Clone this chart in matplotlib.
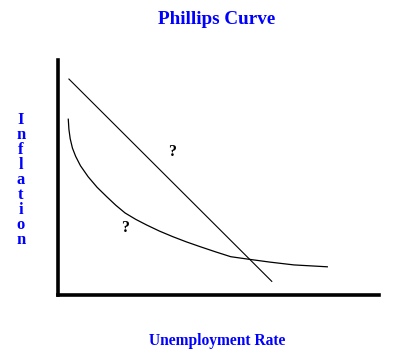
import matplotlib
matplotlib.use("Agg")
import matplotlib.pyplot as plt

W, H = 394, 352

# Data (unemployment on x, inflation on y, arbitrary 0-10 units)
curve_x = [0.32, 0.34, 0.38, 0.45, 0.55, 0.70, 0.94, 1.22, 1.52, 1.80, 2.09, 2.42, 2.76, 3.16, 3.58, 4.00, 4.42, 4.90, 5.38, 5.95, 6.60, 7.35, 8.39]
curve_y = [7.48, 7.05, 6.65, 6.25, 5.90, 5.50, 5.03, 4.58, 4.18, 3.82, 3.49, 3.22, 2.98, 2.72, 2.48, 2.26, 2.06, 1.84, 1.63, 1.52, 1.40, 1.28, 1.20]
line_x = [0.34, 6.66]
line_y = [9.19, 0.58]
marks = [(3.54, 6.10, "?"), (2.09, 2.84, "?")]
title = "Phillips Curve"
xlabel = "Unemployment Rate"
ylabel = "Inflation"

blue = "#0000FF"
serif = ["Liberation Serif", "DejaVu Serif"]

fig = plt.figure(figsize=(W / 100, H / 100), dpi=100)
fig.patch.set_facecolor("white")

left_px, right_px, top_px, bottom_px = 58, 379, 60, 295
ax = fig.add_axes([left_px / W, 1 - bottom_px / H,
                   (right_px - left_px) / W, (bottom_px - top_px) / H])
ax.set_xlim(0, 10)
ax.set_ylim(0, 10)
for s in ["top", "right"]:
    ax.spines[s].set_visible(False)
for s in ["left", "bottom"]:
    ax.spines[s].set_linewidth(2.6)
    ax.spines[s].set_capstyle("projecting")
ax.set_xticks([])
ax.set_yticks([])

ax.plot(line_x, line_y, color="black", lw=0.8)
ax.plot(curve_x, curve_y, color="black", lw=0.9)
for mx, my, t in marks:
    ax.text(mx, my, t, ha="center", va="center", fontsize=11.5,
            fontweight="bold", family=serif, color="black")

fig.text(217 / W, 1 - 19 / H, title, ha="center", va="center",
         fontsize=13.8, fontweight="bold", family=serif, color=blue)
fig.text(217 / W, 1 - 341 / H, xlabel, ha="center", va="center",
         fontsize=11.2, fontweight="bold", family=serif, color=blue)
for i, ch in enumerate(ylabel):
    fig.text(20.7 / W, 1 - (120 + 15 * i) / H, ch, ha="center", va="center",
             fontsize=12, fontweight="bold", family=serif, color=blue)

fig.savefig("out.png", dpi=100, facecolor="white")
